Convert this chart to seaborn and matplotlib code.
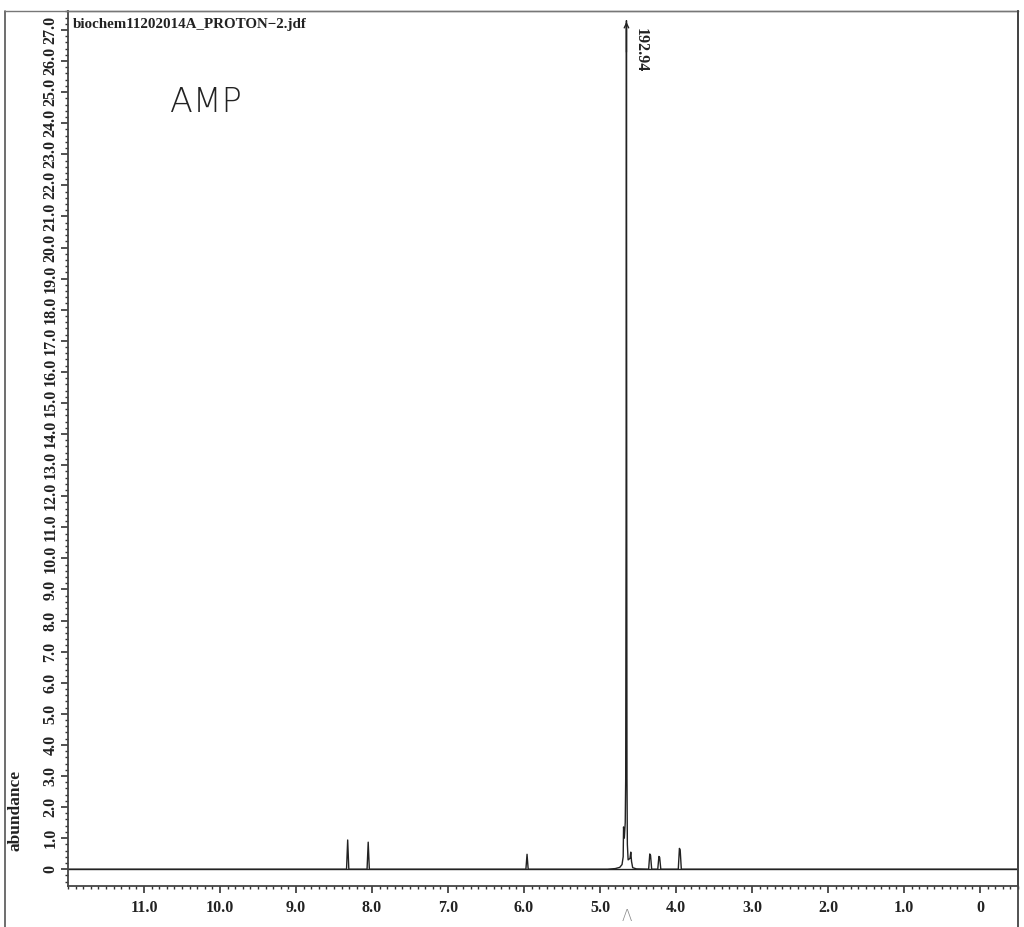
import numpy as np
import pandas as pd
import seaborn as sns
import matplotlib.pyplot as plt
from matplotlib.lines import Line2D
from matplotlib.ticker import MultipleLocator, FixedLocator

# 1H NMR trace of AMP (ppm, displayed abundance)
ppm = [12.0, 9.0, 8.335, 8.32, 8.305, 8.065, 8.05, 8.035, 5.975, 5.96, 5.945,
       4.90, 4.80, 4.74, 4.71, 4.695, 4.69, 4.68, 4.668, 4.662, 4.657, 4.652,
       4.648, 4.645, 4.64, 4.63, 4.605, 4.595, 4.585, 4.57, 4.52,
       4.36, 4.345, 4.335, 4.32, 4.24, 4.225, 4.215, 4.20,
       3.97, 3.955, 3.945, 3.93, 3.0, -0.5]
abundance = [0.0, 0.0, 0.0, 0.94, 0.0, 0.0, 0.87, 0.0, 0.0, 0.48, 0.0,
             0.0, 0.02, 0.06, 0.15, 0.4, 1.36, 1.0, 1.5, 2.9, 10.85, 27.3,
             10.85, 2.9, 0.8, 0.3, 0.35, 0.55, 0.25, 0.05, 0.01,
             0.0, 0.49, 0.45, 0.0, 0.0, 0.41, 0.38, 0.0,
             0.0, 0.67, 0.62, 0.0, 0.0, 0.0]

x_major = list(range(0, 12))
x_labels = ['0'] + [f'{v:.1f}' for v in range(1, 12)]
y_major = list(range(0, 28))
y_labels = ['0'] + [f'{v:.1f}' for v in range(1, 28)]

title = 'biochem11202014A_PROTON\u22122.jdf'
peak_label = '192.94'
peak_ppm = 4.652

df = pd.DataFrame({'ppm': ppm, 'abundance': abundance})

sns.set_style('ticks')
plt.rcParams['font.family'] = ['Liberation Serif', 'DejaVu Serif']
plt.rcParams['font.weight'] = 'bold'

fig = plt.figure(figsize=(10.24, 9.27), dpi=100)
ax = fig.add_axes([68 / 1024, 1 - 886 / 927, 950 / 1024, 875 / 927])

sns.lineplot(data=df, x='ppm', y='abundance', sort=False, estimator=None,
             color='#222222', linewidth=1.0, ax=ax)

ax.set_xlim(12.0, -0.5)
ax.set_ylim(-0.54, 27.61)

ax.xaxis.set_major_locator(FixedLocator(x_major))
ax.set_xticklabels(x_labels, fontsize=11.5, fontweight='bold')
ax.xaxis.set_minor_locator(MultipleLocator(0.1))
ax.yaxis.set_major_locator(FixedLocator(y_major))
ax.set_yticklabels(y_labels, fontsize=11.5, fontweight='bold',
                   rotation=90, va='center')
ax.yaxis.set_minor_locator(MultipleLocator(0.2))

ax.tick_params(axis='both', which='major', direction='out', length=5,
               width=1.2, color='#333333', labelcolor='#222222')
ax.tick_params(axis='both', which='minor', direction='out', length=2.5,
               width=1.0, color='#333333')
ax.tick_params(axis='x', pad=5)
ax.tick_params(axis='y', pad=2)
ax.set_xlabel('')
ax.set_ylabel('')

for side in ['left', 'bottom', 'right', 'top']:
    ax.spines[side].set_color('#444444')
    ax.spines[side].set_linewidth(1.3)
ax.spines['top'].set_linewidth(1.0)
ax.spines['top'].set_color('#777777')

# baseline line across
ax.axhline(0, color='#222222', linewidth=1.0)

# clipped peak arrow and value
ax.annotate('', xy=(peak_ppm, 27.35), xytext=(peak_ppm, 26.2),
            arrowprops=dict(arrowstyle='->', color='#222222', lw=1.0,
                            mutation_scale=8))
ax.text(4.47, 27.05, peak_label, rotation=-90, ha='center', va='top',
        fontsize=11.5, fontweight='bold', color='#222222')

ax.text(0.005, 0.992, title, transform=ax.transAxes, ha='left', va='top',
        fontsize=10.8, fontweight='bold', color='#222222')

ax.text(0.107, 0.896, 'AMP', transform=ax.transAxes, ha='left', va='center',
        fontsize=24, fontweight='light', family='DejaVu Sans',
        color='#222222')

fig.text(16 / 1024, 1 - 810 / 927, 'abundance', rotation=90, ha='center',
         va='center', fontsize=12.5, fontweight='bold', color='#222222')

# outer frame of the scanned page
fig.add_artist(Line2D([5 / 1024, 5 / 1024], [0, 1 - 11 / 927],
                      color='#555555', linewidth=1.2))
fig.add_artist(Line2D([5 / 1024, 1018 / 1024], [1 - 11 / 927, 1 - 11 / 927],
                      color='#777777', linewidth=1.0))
fig.add_artist(Line2D([1018 / 1024, 1018 / 1024], [0, 1 - 11 / 927],
                      color='#444444', linewidth=1.3))
fig.text(627 / 1024, 0.003, '\u039b', ha='center', va='bottom', fontsize=11,
         color='#888888', family=['DejaVu Sans'], fontweight='light')

fig.savefig('out.png', dpi=100)
